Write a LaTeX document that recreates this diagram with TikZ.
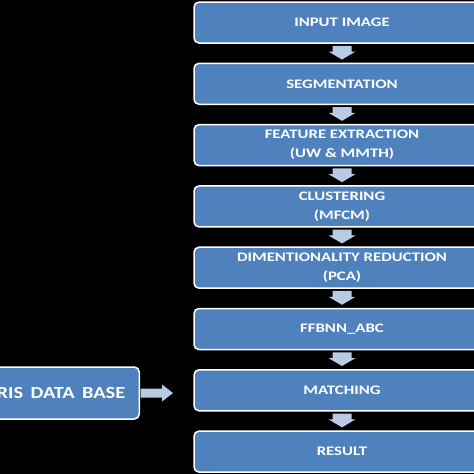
\documentclass[tikz,border=0pt]{standalone}
\usepackage{fontspec}
\newfontfamily\boxfont[FakeStretch=1.29]{Carlito}
\newfontfamily\irisfont[FakeStretch=1.2,WordSpace=1.6]{Carlito}
\usetikzlibrary{calc}
\definecolor{boxblue}{RGB}{79,129,189}
\definecolor{arrowfill}{RGB}{185,203,228}
\newcommand\downblock[2]{%
  \fill[blockarrow] ($(#1.south)+(-9.5,2)$) -- ($(#1.south)+(9.5,2)$)
    -- ($(#2.north)+(9.5,-11)$) -- ($(#2.north)+(13.5,-11)$)
    -- ($(#2.north)+(0,-3)$) -- ($(#2.north)+(-13.5,-11)$)
    -- ($(#2.north)+(-9.5,-11)$) -- cycle;}
\begin{document}
\begin{tikzpicture}[x=1pt,y=-1pt,
  stepbox/.style={draw=white, line width=1.5pt, fill=boxblue, rounded corners=5pt,
    minimum width=296pt, minimum height=41pt, text=white, inner sep=0pt,
    font=\boxfont\bfseries\fontsize{13}{19}\selectfont, align=center},
  irisbox/.style={draw=white, line width=1.5pt, fill=boxblue, rounded corners=5pt,
    minimum height=52pt, text=white, inner xsep=14pt, inner ysep=0pt,
    font=\irisfont\bfseries\fontsize{17}{22}\selectfont},
  blockarrow/.style={fill=arrowfill, draw=none}]
\useasboundingbox (0,0) rectangle (474,474);
\fill[black] (0,0) rectangle (474,474);
\clip (0,0) rectangle (474,474);
\node[stepbox] (n1) at (342,22.5) {INPUT IMAGE};
\node[stepbox] (n2) at (342,83.8) {SEGMENTATION};
\node[stepbox] (n3) at (342,145.1) {FEATURE EXTRACTION\\(UW \& MMTH)};
\node[stepbox] (n4) at (342,206.4) {CLUSTERING\\(MFCM)};
\node[stepbox] (n5) at (342,267.7) {DIMENTIONALITY REDUCTION\\(PCA)};
\node[stepbox] (n6) at (342,329) {FFBNN\_ABC};
\node[stepbox] (n7) at (342,390.3) {MATCHING};
\node[stepbox] (n8) at (342,451.6) {RESULT};
\node[irisbox, anchor=east] (iris) at (140,393) {IRIS DATA BASE};
\downblock{n1}{n2}
\downblock{n2}{n3}
\downblock{n3}{n4}
\downblock{n4}{n5}
\downblock{n5}{n6}
\downblock{n6}{n7}
\downblock{n7}{n8}
\coordinate (tip) at (173,393);
\fill[blockarrow] ($(iris.east)+(0.5,-4.5)$) -- ($(tip)+(-11,-4.5)$) -- ($(tip)+(-11,-8.5)$)
  -- (tip) -- ($(tip)+(-11,8.5)$) -- ($(tip)+(-11,4.5)$) -- ($(iris.east)+(0.5,4.5)$) -- cycle;
\end{tikzpicture}
\end{document}
